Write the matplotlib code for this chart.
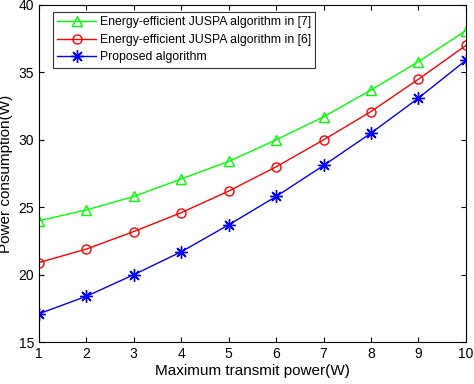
import matplotlib
matplotlib.use("Agg")
import matplotlib.pyplot as plt

plt.rcParams['font.family'] = ['Liberation Sans', 'DejaVu Sans']

x = [1, 2, 3, 4, 5, 6, 7, 8, 9, 10]
jus7 = [24.0, 24.8, 25.8, 27.1, 28.4, 30.0, 31.7, 33.7, 35.8, 38.1]
jus6 = [20.9, 21.9, 23.2, 24.6, 26.2, 28.0, 30.0, 32.1, 34.5, 37.0]
prop = [17.1, 18.4, 20.0, 21.7, 23.7, 25.8, 28.1, 30.5, 33.1, 35.9]

fig = plt.figure(figsize=(4.74, 3.84), dpi=100)
ax = fig.add_axes([0.082, 0.109, 0.901, 0.878])

ax.plot(x, jus7, color='#00ff00', marker='^', markerfacecolor='none', markersize=7,
        linewidth=1, label='Energy-efficient JUSPA algorithm in [7]')
ax.plot(x, jus6, color='red', marker='o', markerfacecolor='none', markersize=6.5,
        linewidth=1, label='Energy-efficient JUSPA algorithm in [6]')
ax.plot(x, prop, color='blue', marker=(8, 2, 0), markersize=9, markeredgewidth=1,
        linewidth=1, label='Proposed algorithm')

ax.set_xlim(1, 10)
ax.set_ylim(15, 40)
ax.set_xticks(x)
ax.set_yticks([15, 20, 25, 30, 35, 40])
ax.tick_params(direction='in', top=True, right=True, labelsize=10)
ax.set_xlabel('Maximum transmit power(W)', fontsize=11, labelpad=2)
ax.set_ylabel('Power consumption(W)', fontsize=11, labelpad=4)

leg = ax.legend(loc='upper left', bbox_to_anchor=(0.033, 0.979), borderaxespad=0,
                fontsize=8.8, frameon=True, fancybox=False, edgecolor='black',
                handlelength=3.2, handletextpad=0.3, borderpad=0.35, labelspacing=0.45)
leg.get_frame().set_linewidth(0.8)

fig.savefig('out.png', dpi=100)
